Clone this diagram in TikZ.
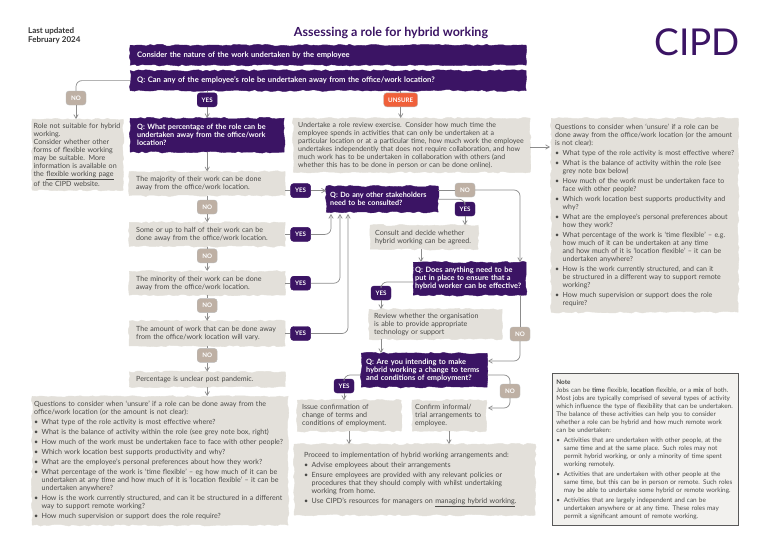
\documentclass[tikz,border=0pt]{standalone}
\usepackage{fontspec}
\setmainfont{Lato}
\usetikzlibrary{arrows,positioning,decorations.pathmorphing}
\definecolor{morado}{HTML}{3B1464}
\definecolor{gris}{HTML}{E3E0DA}
\definecolor{tostado}{HTML}{BEB0A4}
\definecolor{naranja}{HTML}{F0603A}
\definecolor{texto}{HTML}{4A4A48}
\definecolor{linea}{HTML}{8C8C8C}
\newcommand{\bul}[1]{\par\setlength{\parskip}{2pt}\let\\\newline\hangindent=7.5pt\hangafter=1\noindent\makebox[7.5pt][l]{\textbullet}#1\par}

\begin{document}
\begin{tikzpicture}[x=1pt,y=-1pt]
\tikzset{
    cepillo/.style={decorate, decoration={random steps, segment length=4pt, amplitude=0.9pt}},
    caja/.style={cepillo, rectangle, fill=gris, draw=gris, inner xsep=7pt, inner ysep=2pt, align=left,
                 text=texto, font=\fontsize{7.1}{8}\selectfont},
    pregunta/.style={cepillo, rectangle, fill=morado, draw=morado, inner xsep=7pt, inner ysep=2pt, align=left,
                 text=white, font=\fontsize{7.3}{8}\selectfont\bfseries},
    boton/.style={rectangle, rounded corners=3pt, minimum width=20pt, minimum height=14pt, inner sep=0pt,
                 text=white, font=\fontsize{6.2}{7}\selectfont\bfseries},
    si/.style={boton, fill=morado, draw=morado},
    no/.style={boton, fill=tostado, draw=linea!60},
    duda/.style={boton, fill=naranja, draw=linea!60, minimum width=34pt},
    flecha/.style={->, >=angle 60, draw=linea, line width=0.7pt, rounded corners=6pt},
    tramo/.style={draw=linea, line width=0.7pt, rounded corners=6pt}
}
\useasboundingbox (0,0) rectangle (768,543);

\node[anchor=north west, inner sep=0pt, align=left, text=black!80, font=\fontsize{8}{9}\selectfont\bfseries] (fecha) at (28,27) {Last updated\\February 2024};
\node[text=morado, inner sep=0pt, font=\fontsize{12.5}{14}\selectfont\bfseries] (titulo) at (391,33) {Assessing a role for hybrid working};
\node[text=morado, inner sep=0pt, font=\fontsize{37}{40}\selectfont] (logo) at (697,42) {CIPD};

\node[pregunta, anchor=north west, text width=382pt, minimum height=20pt, font=\fontsize{7.6}{8}\selectfont\bfseries] (nature) at (130,45) {Consider the nature of the work undertaken by the employee};
\node[pregunta, below=5pt of nature, text width=382pt, minimum height=20pt, font=\fontsize{7.6}{8}\selectfont\bfseries] (away) {Q: Can any of the employee's role be undertaken away from the office/work location?};

\node[pregunta, anchor=north west, text width=140pt, minimum height=34pt] (pct) at (130,118) {Q: What percentage of the role can be\\undertaken away from the office/work\\location?};
\node[si, above=11pt of pct] (yesaway) {YES};
\node[caja, below=19pt of pct, text width=142pt, minimum height=24pt] (major) {The majority of their work can be done\\away from the office/work location.};
\node[no, below=4pt of major] (noa) {NO};
\node[caja, below=8pt of noa, text width=142pt, minimum height=24pt] (some) {Some or up to half of their work can be\\done away from the office/work location.};
\node[no, below=2pt of some] (nob) {NO};
\node[caja, below=8pt of nob, text width=142pt, minimum height=24pt] (minor) {The minority of their work can be done\\away from the office/work location.};
\node[no, below=3pt of minor] (noc) {NO};
\node[caja, below=8pt of noc, text width=142pt, minimum height=25pt] (vary) {The amount of work that can be done away\\from the office/work location will vary.};
\node[no, below=2pt of vary] (nod) {NO};
\node[caja, below=9pt of nod, text width=142pt, minimum height=15pt] (unclear) {Percentage is unclear post pandemic.};

\node[no] (noaway) at (76,98) {NO};
\node[caja, anchor=north west, inner xsep=1.5pt, text width=88pt, minimum height=71pt] (role) at (32,119) {Role not suitable for hybrid\\working.\\Consider whether other\\forms of flexible working\\may be suitable. More\\information is available on\\the \underline{flexible working page}\\of the CIPD website.};

\node[caja, anchor=north west, inner xsep=2pt, text width=252pt, minimum height=129pt] (qleft) at (32,396) {Questions to consider when `unsure' if a role can be done away from the\\office/work location (or the amount is not clear):
\bul{What type of the role activity is most effective where?}
\bul{What is the balance of activity within the role (see grey note box, right)}
\bul{How much of the work must be undertaken face to face with other people?}
\bul{Which work location best supports productivity and why?}
\bul{What are the employee's personal preferences about how they work?}
\bul{What percentage of the work is `time flexible' -- eg how much of it can be\\undertaken at any time and how much of it is `location flexible' -- it can be\\undertaken anywhere?}
\bul{How is the work currently structured, and can it be structured in a different\\way to support remote working?}
\bul{How much supervision or support does the role require?}};

\node[caja, anchor=north west, inner xsep=5pt, text width=227pt, minimum height=54pt, font=\fontsize{7}{8}\selectfont] (review) at (293,118) {Undertake a role review exercise. Consider how much time the\\employee spends in activities that can only be undertaken at a\\particular location or at a particular time, how much work the employee\\undertakes independently that does not require collaboration, and how\\much work has to be undertaken in collaboration with others (and\\whether this has to be done in person or can be done online).};
\node[duda, above=11pt of review, xshift=-11pt] (unsure) {UNSURE};

\node[caja, anchor=north west, inner xsep=4pt, text width=179pt, minimum height=194pt, font=\fontsize{7}{8}\selectfont] (qright) at (551,118) {Questions to consider when `unsure' if a role can be\\done away from the office/work location (or the amount\\is not clear):
\bul{What type of the role activity is most effective where?}
\bul{What is the balance of activity within the role (see\\grey note box below)}
\bul{How much of the work must be undertaken face to\\face with other people?}
\bul{Which work location best supports productivity and\\why?}
\bul{What are the employee's personal preferences about\\how they work?}
\bul{What percentage of the work is `time flexible' -- e.g.\\how much of it can be undertaken at any time\\and how much of it is `location flexible' -- it can be\\undertaken anywhere?}
\bul{How is the work currently structured, and can it\\be structured in a different way to support remote\\working?}
\bul{How much supervision or support does the role\\require?}};

\node[si, right=5pt of major, yshift=-7pt] (yesa) {YES};
\node[si, right=5pt of some] (yesb) {YES};
\node[si, right=5pt of minor] (yesc) {YES};
\node[si, right=5pt of vary] (yesd) {YES};

\node[pregunta, anchor=north west, inner xsep=4pt, text width=104pt, minimum height=26pt, font=\fontsize{7.2}{8}\selectfont\bfseries] (stake) at (326,186) {Q: Do any other stakeholders\\need to be consulted?};
\node[no] (nostake) at (465,190) {NO};
\node[si] (yesstake) at (465,209) {YES};
\node[caja, anchor=north west, inner xsep=5pt, text width=98pt, minimum height=24pt] (consult) at (370,225) {Consult and decide whether\\hybrid working can be agreed.};
\node[pregunta, anchor=north west, inner xsep=2pt, text width=109pt, minimum height=33pt, font=\fontsize{7.4}{8}\selectfont\bfseries] (effect) at (413,262) {Q: Does anything need to be\\put in place to ensure that a\\hybrid worker can be effective?};
\node[si] (yeseff) at (381,293) {YES};
\node[caja, anchor=north west, inner xsep=5pt, text width=123pt, minimum height=30pt] (tech) at (369,309) {Review whether the organisation\\is able to provide appropriate\\technology or support};
\node[no] (noeff) at (520,334) {NO};
\node[pregunta, anchor=north west, inner xsep=5pt, text width=116pt, minimum height=34pt, font=\fontsize{7.4}{8}\selectfont\bfseries] (intend) at (361,353) {Q: Are you intending to make\\hybrid working a change to terms\\and conditions of employment?};
\node[si] (yesint) at (344,386) {YES};
\node[no] (noint) at (510,391) {NO};
\node[caja, anchor=north west, inner xsep=5pt, text width=94pt, minimum height=31pt] (issue) at (297,400) {Issue confirmation of\\change of terms and\\conditions of employment.};
\node[caja, anchor=north west, inner xsep=3pt, text width=68pt, minimum height=31pt] (confirm) at (412,400) {Confirm informal/\\trial arrangements to\\employee.};
\node[caja, anchor=north west, inner xsep=10pt, text width=221pt, minimum height=71pt] (proceed) at (294,444) {Proceed to implementation of hybrid working arrangements and:
\bul{Advise employees about their arrangements}
\bul{Ensure employees are provided with any relevant policies or\\procedures that they should comply with whilst undertaking\\working from home.}
\bul{Use CIPD's resources for managers on \underline{managing hybrid working}.}};

\node[anchor=north west, rectangle, fill=gris!45, draw=black!65, semithick, inner xsep=4pt, inner ysep=3pt, text width=178pt, minimum height=152pt, align=left, text=texto, font=\fontsize{6.4}{8}\selectfont] (note) at (552,373) {\textbf{Note}\\Jobs can be \textbf{time} flexible, \textbf{location} flexible, or a \textbf{mix} of both.\\Most jobs are typically comprised of several types of activity\\which influence the type of flexibility that can be undertaken.\\The balance of these activities can help you to consider\\whether a role can be hybrid and how much remote work\\can be undertaken:
\bul{Activities that are undertaken with other people, at the\\same time and at the same place. Such roles may not\\permit hybrid working, or only a minority of time spent\\working remotely.}
\bul{Activities that are undertaken with other people at the\\same time, but this can be in person or remote. Such roles\\may be able to undertake some hybrid or remote working.}
\bul{Activities that are largely independent and can be\\undertaken anywhere or at any time. These roles may\\permit a significant amount of remote working.}};

\coordinate (ina) at (331,214);
\coordinate (inb) at (340,214);
\coordinate (inc) at (348,214);
\coordinate (inright) at (550,147);
\coordinate (ineff) at (520,262);
\coordinate (outcons) at (421,262);
\coordinate (outeff) at (413,282);
\coordinate (inint) at (488,361);
\coordinate (outyes) at (361,375);
\coordinate (outno) at (487,375);
\coordinate (inconf) at (488,408);
\coordinate (outissue) at (349,444);
\coordinate (outconf) at (449,444);

\draw[tramo] (away.west) -| (noaway);
\draw[flecha] (noaway) -- (role.north -| noaway);
\draw[tramo] (away.south -| yesaway) -- (yesaway);
\draw[flecha] (yesaway) -- (pct);
\draw[tramo] (away.south -| unsure) -- (unsure);
\draw[flecha] (unsure) -- (review.north -| unsure);
\draw[flecha] (review.east |- inright) -- (inright);
\draw[flecha] (pct) -- (major);
\draw[tramo] (major) -- (noa);
\draw[flecha] (noa) -- (some);
\draw[tramo] (some) -- (nob);
\draw[flecha] (nob) -- (minor);
\draw[tramo] (minor) -- (noc);
\draw[flecha] (noc) -- (vary);
\draw[tramo] (vary) -- (nod);
\draw[flecha] (nod) -- (unclear);
\draw[flecha] (unclear) -- (qleft.north -| unclear);
\draw[tramo] (major.east |- yesa) -- (yesa);
\draw[tramo] (some.east |- yesb) -- (yesb);
\draw[tramo] (minor.east |- yesc) -- (yesc);
\draw[tramo] (vary.east |- yesd) -- (yesd);
\draw[flecha] (yesa) -- (stake.west |- yesa);
\draw[flecha] (yesb) -| (ina);
\draw[flecha] (yesc) -| (inb);
\draw[flecha] (yesd) -| (inc);
\draw[tramo] (stake.east |- nostake) -- (nostake);
\draw[flecha] (nostake) -| (ineff);
\draw[tramo] (stake.east) -| (yesstake);
\draw[flecha] (yesstake) -- (yesstake |- consult.north);
\draw[flecha] (outcons |- consult.south) -- (outcons);
\draw[tramo] (outeff) -| (yeseff);
\draw[flecha] (yeseff) -- (yeseff |- tech.north);
\draw[flecha] (yeseff |- tech.south) -- (yeseff |- intend.north);
\draw[tramo] (ineff |- effect.south) -- (noeff);
\draw[flecha] (noeff) |- (inint);
\draw[tramo] (outyes) -| (yesint);
\draw[flecha] (yesint) -- (yesint |- issue.north);
\draw[tramo] (outno) -| (noint);
\draw[flecha] (noint) |- (inconf);
\draw[flecha] (outissue |- issue.south) -- (outissue);
\draw[flecha] (outconf |- confirm.south) -- (outconf);

\end{tikzpicture}
\end{document}
